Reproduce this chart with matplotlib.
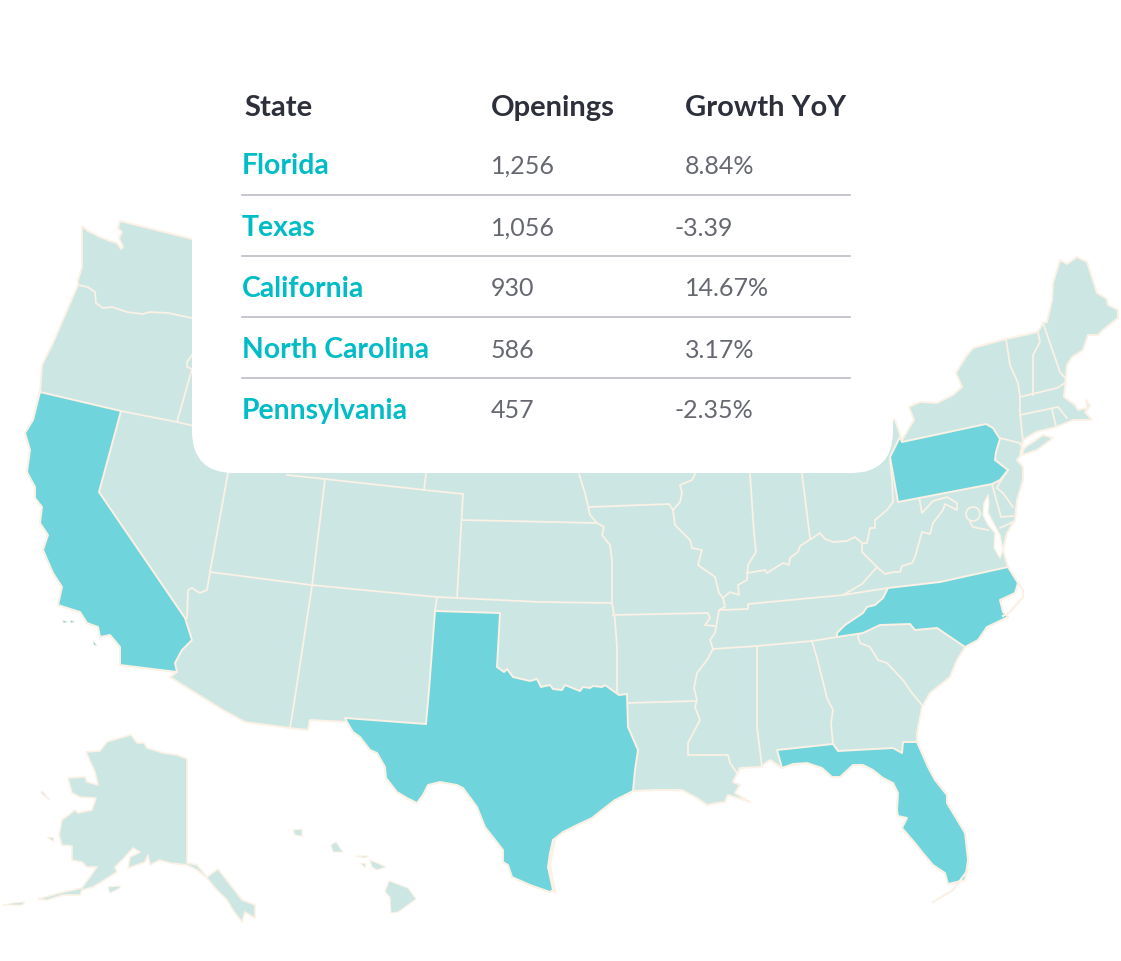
#!/usr/bin/env python3
"""Top 5 states table over a US map. Outlines are read off the picture, in pixels."""
import matplotlib
matplotlib.use("Agg")
import matplotlib.pyplot as plt
from matplotlib.patches import Polygon, FancyBboxPatch, Circle

W, H = 1121, 961
LAND = "#cce6e4"
HILITE = "#6fd4dc"
EDGE = "#fbf1e4"
TEAL = "#00bcc6"
DARK = "#2d2f3a"
GRAY = "#666870"
RULE = "#bcbcc4"

# table
headers = ["State", "Openings", "Growth YoY"]
states = ["Florida", "Texas", "California", "North Carolina", "Pennsylvania"]
openings = ["1,256", "1,056", "930", "586", "457"]
growth = ["8.84%", "-3.39", "14.67%", "3.17%", "-2.35%"]
growth_x = [685, 675, 685, 685, 675]
row_y = [166, 228, 289, 350, 411]
rule_y = [195, 256, 317, 378]

# coast pieces, clockwise
nw_coast = [(82, 226), (88, 231), (100, 237), (110, 241), (117, 243), (121, 249), (123, 247),
            (119, 238), (122, 232), (118, 228), (120, 221), (192, 239), (500, 300), (895, 420)]
ne_coast = [(902, 440), (914, 420), (909, 407), (920, 402), (937, 403), (953, 395), (962, 387),
            (956, 373), (965, 358), (973, 348), (1006, 339), (1038, 332), (1043, 323), (1047, 322),
            (1052, 300), (1053, 283), (1060, 260), (1067, 264), (1077, 257), (1087, 262),
            (1097, 293), (1107, 299), (1108, 305), (1118, 310), (1118, 318), (1103, 330),
            (1098, 335), (1088, 335), (1083, 350), (1072, 357), (1067, 365), (1065, 387),
            (1064, 397), (1075, 405), (1078, 410), (1087, 408), (1086, 400), (1090, 406),
            (1085, 412), (1092, 420), (1073, 420), (1056, 427), (1036, 432), (1023, 440),
            (1020, 456), (1017, 460), (1023, 467), (1023, 480), (1017, 500), (1015, 520),
            (1007, 533), (1003, 550)]
nc_coast = [(1008, 567), (1018, 583), (1015, 593), (1000, 600), (1003, 612), (1008, 617),
            (987, 627), (978, 640), (965, 647)]
se_coast = [(957, 660), (950, 677), (930, 693), (922, 707), (917, 733)]
fl_coast = [(917, 742), (928, 767), (935, 780), (947, 795), (947, 803), (965, 833), (968, 860),
            (965, 880), (948, 884), (945, 873), (933, 865), (922, 852), (915, 843), (902, 828),
            (907, 818), (898, 816), (897, 810), (898, 793), (893, 783), (883, 778), (873, 770),
            (863, 765), (853, 765), (840, 777), (832, 777), (822, 768), (807, 763), (793, 764),
            (782, 768)]
gulf_coast = [(770, 760), (760, 767), (740, 768), (733, 782), (740, 785), (735, 793), (750, 802),
              (728, 795), (725, 802), (717, 803), (707, 805), (697, 798), (682, 790), (655, 790)]
tx_coast = [(633, 791), (615, 800), (602, 810), (592, 818), (577, 825), (563, 832), (553, 840),
            (550, 853), (548, 867), (553, 890), (550, 892), (530, 885), (512, 877), (508, 865),
            (503, 862), (503, 850), (485, 827), (477, 807), (463, 788), (457, 785), (440, 782),
            (428, 785), (423, 795), (417, 803), (407, 798), (397, 792), (386, 778), (385, 767),
            (377, 753), (370, 750), (360, 737), (353, 732), (347, 722)]
sw_coast = [(310, 720), (308, 730), (290, 728), (245, 722), (223, 710), (170, 677)]
ca_coast = [(177, 672), (120, 665), (120, 647), (110, 635), (100, 637), (98, 627), (87, 623),
            (80, 612), (58, 605), (62, 587), (53, 573), (43, 550), (48, 535), (40, 523),
            (42, 507), (35, 498), (35, 487), (27, 472), (30, 450), (25, 433), (33, 420), (40, 392)]
or_wa_coast = [(42, 365), (53, 343), (78, 285), (78, 280), (82, 267)]

# highlighted states
ca_inland = [(121, 411), (99, 492), (185, 618), (192, 640), (182, 650), (175, 663)]
tx_north = [(345, 718), (426, 724), (429, 690), (435, 611), (500, 613), (497, 667), (504, 672),
            (507, 669), (513, 677), (530, 681), (537, 679), (541, 687), (550, 685), (553, 689),
            (562, 690), (565, 685), (580, 691), (583, 687), (590, 688), (593, 686), (602, 687),
            (605, 685), (619, 695), (627, 694), (628, 727), (638, 750), (635, 770)]
fl_north = [(777, 750), (833, 744), (838, 751), (893, 748), (902, 753), (903, 742)]
nc_inland = [(940, 582), (888, 588), (883, 598), (875, 605), (867, 607), (863, 613), (845, 625),
             (837, 633), (837, 637), (863, 633), (880, 625), (910, 624), (915, 630), (937, 628)]
pa_outline = [(902, 442), (986, 424), (993, 428), (1000, 439), (996, 452), (995, 460), (1008, 470),
              (1000, 480), (992, 484), (898, 502), (890, 457), (900, 437)]

# state lines on the light land
borders = [
    [(78, 285), (88, 287), (95, 292), (96, 303), (103, 308), (112, 307), (127, 312), (143, 314),
     (150, 312), (168, 313), (192, 318)],
    [(192, 355), (187, 362), (187, 367), (192, 369), (177, 422)],
    [(121, 411), (177, 422), (228, 434)],
    [(228, 473), (210, 572), (207, 590), (200, 593), (192, 588), (188, 590), (187, 618)],
    [(210, 572), (311, 585), (437, 597), (540, 602), (612, 603)],
    [(287, 475), (325, 479), (425, 490), (463, 494)],
    [(325, 479), (312, 586), (293, 710), (290, 728)],
    [(463, 494), (457, 598)],
    [(426, 474), (424, 490)],
    [(462, 520), (597, 523)],
    [(579, 474), (585, 493), (590, 515), (597, 523), (604, 527), (602, 535), (610, 545), (612, 560),
     (612, 603), (615, 620), (617, 647), (617, 692)],
    [(437, 597), (435, 611)],
    [(589, 507), (669, 504), (673, 510)],
    [(695, 474), (692, 480), (680, 485), (682, 493), (680, 502), (673, 510), (675, 525), (690, 540),
     (692, 548), (702, 550), (698, 565), (715, 577), (719, 593), (723, 598), (725, 607), (719, 610),
     (715, 633), (710, 640), (713, 649), (707, 660), (697, 673), (694, 688), (697, 700), (695, 707),
     (700, 720), (688, 743), (688, 755), (728, 755), (730, 763), (737, 773)],
    [(613, 615), (708, 613), (710, 618), (705, 625), (715, 626)],
    [(627, 703), (695, 701)],
    [(750, 474), (754, 533), (756, 552), (748, 565), (747, 580), (738, 585), (739, 595), (730, 592),
     (723, 598)],
    [(802, 474), (810, 538)],
    [(747, 573), (765, 570), (767, 573), (775, 568), (783, 563), (789, 565), (790, 558), (798, 552),
     (800, 546), (811, 539), (820, 533), (825, 539), (833, 542), (847, 541), (855, 537), (862, 543),
     (867, 543), (870, 528), (875, 528), (875, 520), (887, 510), (893, 502), (892, 480), (890, 460)],
    [(862, 543), (862, 552), (877, 567), (885, 574), (893, 572), (900, 572), (902, 566), (912, 563),
     (915, 557), (922, 532), (930, 534), (933, 523), (943, 510), (945, 504), (957, 510), (957, 503),
     (947, 497), (933, 501), (922, 513), (919, 497)],
    [(877, 567), (862, 584), (843, 595)],
    [(720, 610), (748, 609), (748, 604), (843, 595), (888, 588)],
    [(713, 649), (757, 646), (812, 641), (837, 637)],
    [(757, 646), (757, 727), (762, 767)],
    [(812, 641), (817, 658), (827, 698), (833, 710), (831, 723), (833, 744)],
    [(860, 630), (858, 637), (860, 643), (870, 647), (878, 660), (887, 663), (903, 680), (912, 693),
     (922, 705)],
    [(1006, 339), (1010, 365), (1018, 383), (1020, 397), (1020, 413), (1023, 442)],
    [(1038, 332), (1040, 342), (1033, 355), (1033, 395)],
    [(1043, 323), (1060, 372), (1065, 378)],
    [(1020, 397), (1057, 388), (1065, 383)],
    [(1020, 415), (1058, 407), (1067, 418)],
    [(1052, 409), (1056, 426)],
    [(1000, 438), (1020, 443), (1023, 450)],
    [(992, 484), (1001, 517), (1013, 516)],
    [(997, 488), (1003, 493), (1013, 507)],
    [(970, 522), (973, 527), (988, 530)],
    [(1000, 528), (1013, 522)],
    [(1008, 470), (1000, 482), (997, 488)],
]
dc_center = (973, 514)
dc_radius = 7

# water and thin coast details
long_island = [(1024, 448), (1043, 435), (1053, 438), (1037, 450), (1022, 455)]
chesapeake = [(988, 495), (984, 503), (983, 515), (988, 525), (995, 533), (994, 548), (1000, 558),
              (1003, 550), (1000, 535), (993, 522), (988, 512), (989, 503)]
outer_banks = [(1018, 583), (1023, 590), (1023, 597), (1010, 612), (1003, 616)]
fl_keys = [(968, 870), (953, 890), (933, 902)]
padre = [(555, 840), (550, 865), (555, 892)]

# Alaska and Hawaii
alaska = [(86, 752), (100, 751), (107, 742), (120, 738), (131, 735), (137, 743), (144, 743),
          (147, 748), (163, 753), (177, 755), (187, 759), (187, 863), (197, 865), (207, 877),
          (218, 869), (242, 900), (255, 905), (255, 918), (245, 912), (242, 922), (233, 910),
          (227, 900), (217, 890), (207, 878), (197, 870), (187, 865), (170, 863), (160, 860),
          (150, 865), (148, 855), (145, 862), (128, 868), (130, 857), (140, 852), (133, 848),
          (125, 857), (115, 867), (117, 872), (93, 887), (82, 890), (80, 895), (63, 895), (47, 900),
          (38, 899), (60, 893), (82, 888), (97, 867), (87, 867), (82, 862), (72, 860), (72, 846),
          (62, 845), (59, 835), (62, 820), (75, 810), (78, 813), (92, 810), (96, 798), (80, 797),
          (72, 793), (68, 778), (85, 777), (87, 782), (98, 785), (95, 772)]
small_islands = [
    [(3, 905), (13, 903), (25, 902), (22, 905)],
    [(108, 887), (120, 886), (120, 888), (110, 893)],
    [(42, 791), (50, 800), (47, 798), (41, 793)],
    [(47, 837), (53, 837), (53, 841)],
    [(293, 830), (302, 829), (302, 836), (295, 835)],
    [(331, 845), (336, 842), (343, 852), (333, 852)],
    [(355, 856), (368, 856), (365, 858)],
    [(360, 863), (365, 863), (365, 867)],
    [(370, 860), (386, 867), (377, 870), (372, 867)],
    [(389, 881), (408, 888), (416, 899), (398, 912), (391, 913), (390, 897), (385, 892)],
]
channel_islands = [
    [(62, 620), (68, 622), (64, 623)],
    [(70, 620), (75, 622), (71, 623)],
    [(93, 640), (97, 646), (94, 645)],
]


def add_poly(ax, pts, face, lw=1.4, z=2):
    ax.add_patch(Polygon(pts, closed=True, facecolor=face, edgecolor=EDGE, linewidth=lw,
                         joinstyle="round", zorder=z))


def draw_map(ax):
    mainland = (nw_coast + ne_coast + nc_coast + se_coast + fl_coast + gulf_coast + tx_coast
                + sw_coast + ca_coast + or_wa_coast)
    add_poly(ax, mainland, LAND)
    add_poly(ax, alaska, LAND, lw=1.2)
    for isl in small_islands:
        add_poly(ax, isl, LAND, lw=0.8)
    for isl in channel_islands:
        add_poly(ax, isl, HILITE, lw=0.5)

    for line in borders:
        xs, ys = zip(*line)
        ax.plot(xs, ys, color=EDGE, lw=1.3, solid_joinstyle="round", zorder=3)
    ax.add_patch(Circle(dc_center, dc_radius, facecolor=LAND, edgecolor=EDGE, lw=1.3, zorder=3))

    add_poly(ax, ca_inland + ca_coast, HILITE, z=4)
    add_poly(ax, tx_north + tx_coast, HILITE, z=4)
    add_poly(ax, fl_north + fl_coast, HILITE, z=4)
    add_poly(ax, nc_inland + nc_coast[::-1], HILITE, z=4)
    add_poly(ax, pa_outline, HILITE, z=4)

    add_poly(ax, long_island, LAND, lw=1.4, z=5)
    add_poly(ax, chesapeake, "white", lw=1.0, z=5)
    for thin in (outer_banks, fl_keys, padre):
        xs, ys = zip(*thin)
        ax.plot(xs, ys, color=EDGE, lw=1.6, zorder=5)


def draw_table(ax):
    # la carte blanche passe au-dessus de la carte
    card = FancyBboxPatch((192, 40), 701, 433, boxstyle="round,pad=0,rounding_size=42",
                          facecolor="white", edgecolor="none", zorder=6)
    ax.add_patch(card)

    for x, label in zip([244, 491, 685], headers):
        ax.text(x, 108, label, fontsize=21, fontweight="bold", color=DARK, va="center", zorder=7)
    for y, state, nb, gr, gx in zip(row_y, states, openings, growth, growth_x):
        ax.text(242, y, state, fontsize=20.4, fontweight="bold", color=TEAL, va="center", zorder=7)
        ax.text(491, y, nb, fontsize=18, color=GRAY, va="center", zorder=7)
        ax.text(gx, y, gr, fontsize=18, color=GRAY, va="center", zorder=7)
    for y in rule_y:
        ax.plot([242, 850], [y, y], color=RULE, lw=1.2, zorder=7)


def main():
    plt.rcParams["font.family"] = ["Lato", "DejaVu Sans"]
    fig = plt.figure(figsize=(W / 100, H / 100), dpi=100)
    ax = fig.add_axes([0, 0, 1, 1])
    ax.set_xlim(0, W)
    ax.set_ylim(H, 0)
    ax.axis("off")
    draw_map(ax)
    draw_table(ax)
    fig.savefig("out.png", dpi=100)
    plt.close(fig)


if __name__ == "__main__":
    main()
